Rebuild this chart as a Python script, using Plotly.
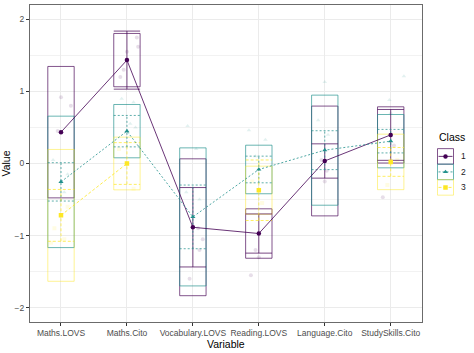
import plotly.graph_objects as go

variables = ["Maths.LOVS", "Maths.Cito", "Vocabulary.LOVS", "Reading.LOVS",
             "Language.Cito", "StudySkills.Cito"]
classes = ["1", "2", "3"]

# class means, SD (box half-height) and CI half-width (error bars)
mean_c1 = [0.435, 1.435, -0.885, -0.972, 0.035, 0.397]
mean_c2 = [-0.255, 0.449, -0.741, -0.083, 0.185, 0.310]
mean_c3 = [-0.720, 0.000, None, -0.371, None, 0.022]
sd_c1 = [0.912, 0.370, 0.950, 0.343, 0.762, 0.390]
sd_c2 = [0.912, 0.370, 0.958, 0.337, 0.764, 0.370]
sd_c3 = [0.915, 0.366, None, 0.334, None, 0.385]
ci_c1 = [None, 0.403, 0.551, 0.272, 0.238, 0.353]
ci_c2 = [0.266, 0.218, 0.442, 0.185, 0.270, 0.163]
ci_c3 = [0.360, 0.290, None, 0.420, None, 0.200]

# faint raw observations: (variable index, jitter, value)
raw_c1 = [(0, 0.00, 0.92), (0, 0.15, 0.80), (0, -0.05, 0.45),
          (1, 0.15, 1.75), (1, 0.17, 1.62), (1, -0.05, 1.30), (1, -0.10, 1.20), (1, 0.00, 1.55),
          (2, 0.08, -0.90), (2, 0.15, -1.05), (2, 0.10, -1.20), (2, -0.05, -1.60),
          (3, -0.05, -1.20), (3, 0.00, -1.30), (3, -0.12, -1.55),
          (4, -0.05, 0.05), (4, 0.03, -0.10), (4, 0.00, -0.25),
          (5, -0.12, -0.47), (5, 0.05, 0.25)]
raw_c2 = [(0, -0.12, 0.05), (0, 0.10, -0.15), (0, 0.05, -0.40),
          (1, 0.10, 0.85), (1, -0.08, 0.90), (1, 0.13, 0.50), (1, 0.05, 0.55),
          (2, -0.08, 0.52), (2, 0.05, 0.20), (2, 0.10, -0.50), (2, -0.10, -0.40),
          (3, -0.15, 0.46), (3, 0.10, 0.33), (3, -0.05, 0.10),
          (4, 0.00, 1.13), (4, -0.10, 0.60), (4, 0.05, 0.40),
          (5, 0.20, 1.21), (5, -0.02, 0.88), (5, 0.00, 0.70)]
raw_c3 = [(0, -0.10, -0.90), (0, 0.05, -1.05), (0, -0.15, -1.10), (0, 0.10, -0.60),
          (1, 0.10, -0.35), (1, -0.12, 0.20),
          (3, 0.05, -0.55), (3, -0.10, -0.25),
          (5, -0.05, -0.30), (5, 0.10, 0.05)]

means = [mean_c1, mean_c2, mean_c3]
sds = [sd_c1, sd_c2, sd_c3]
cis = [ci_c1, ci_c2, ci_c3]
raws = [raw_c1, raw_c2, raw_c3]

rgb = ["68,1,84", "33,144,140", "253,231,37"]
box_alpha = [0.75, 0.75, 0.55]
dashes = ["solid", "2px,2px", "3px,2px"]
symbols = ["circle", "triangle-up", "square"]
HW = 0.2  # half width of boxes / error-bar caps (category units)

fig = go.Figure()

# raw data
for k in range(3):
    fig.add_trace(go.Scatter(
        x=[r[0] + 1 + r[1] for r in raws[k]], y=[r[2] for r in raws[k]],
        mode="markers", showlegend=False, hoverinfo="skip",
        marker=dict(symbol=symbols[k], size=4, color=f"rgba({rgb[k]},0.13)")))

# SD boxes
for k in range(3):
    xs, ys = [], []
    for i in range(len(variables)):
        m, s = means[k][i], sds[k][i]
        if m is None or s is None:
            continue
        c = i + 1
        xs += [c - HW, c + HW, c + HW, c - HW, c - HW, None]
        ys += [m - s, m - s, m + s, m + s, m - s, None]
    fig.add_trace(go.Scatter(x=xs, y=ys, mode="lines", showlegend=False, hoverinfo="skip",
                             line=dict(color=f"rgba({rgb[k]},{box_alpha[k]})", width=0.9)))

# CI error bars
for k in range(3):
    xs, ys = [], []
    for i in range(len(variables)):
        m, e = means[k][i], cis[k][i]
        if m is None or e is None:
            continue
        c = i + 1
        xs += [c, c, None, c - HW, c + HW, None, c - HW, c + HW, None]
        ys += [m - e, m + e, None, m + e, m + e, None, m - e, m - e, None]
    fig.add_trace(go.Scatter(x=xs, y=ys, mode="lines", showlegend=False, hoverinfo="skip",
                             line=dict(color=f"rgba({rgb[k]},0.8)", width=0.9, dash=dashes[k])))

# mean profiles
for k in range(3):
    fig.add_trace(go.Scatter(
        x=list(range(1, len(variables) + 1)), y=means[k], mode="lines+markers",
        connectgaps=False, showlegend=False, name=classes[k],
        line=dict(color=f"rgb({rgb[k]})", width=0.8, dash=dashes[k]),
        marker=dict(symbol=symbols[k], size=4.5, color=f"rgb({rgb[k]})")))

# ---- manual legend (ggplot style keys) on a helper axis in pixel units ----
W, H = 474, 353
L, R, T, B = 30, 421.7, 5, 321.7
key_x0, key_x1 = 437.5, 453.5
key_tops = [148.5, 164.0, 179.5]
key_h = 15.5
for k in range(3):
    y0 = key_tops[k]
    fig.add_shape(type="rect", xref="x2", yref="y2", x0=key_x0, x1=key_x1, y0=y0, y1=y0 + key_h,
                  line=dict(color=f"rgba({rgb[k]},{box_alpha[k]})", width=0.9))
    fig.add_shape(type="line", xref="x2", yref="y2", x0=key_x0 + 1, x1=key_x1 - 1,
                  y0=y0 + key_h / 2, y1=y0 + key_h / 2,
                  line=dict(color=f"rgb({rgb[k]})", width=0.8, dash=dashes[k]))
    fig.add_trace(go.Scatter(x=[(key_x0 + key_x1) / 2], y=[y0 + key_h / 2], xaxis="x2", yaxis="y2",
                             mode="markers", showlegend=False, hoverinfo="skip",
                             marker=dict(symbol=symbols[k], size=4.5, color=f"rgb({rgb[k]})")))
    fig.add_annotation(xref="x2", yref="y2", x=459, y=y0 + key_h / 2, text=classes[k],
                       showarrow=False, xanchor="left", yanchor="middle",
                       font=dict(family="Liberation Sans", size=8.5, color="#1a1a1a"))
fig.add_annotation(xref="x2", yref="y2", x=436.5, y=137, text="Class", showarrow=False,
                   xanchor="left", yanchor="middle",
                   font=dict(family="Liberation Sans", size=10.5, color="#000000"))

dom_main = (R - L) / (W - L)
fig.update_layout(
    width=W, height=H,
    margin=dict(l=L, r=0, t=T, b=H - B, pad=0),
    paper_bgcolor="white", plot_bgcolor="white",
    showlegend=False,
    font=dict(family="Liberation Sans", size=8.5, color="#4D4D4D"),
    xaxis=dict(domain=[0, dom_main], range=[0.53, 6.47],
               tickmode="array", tickvals=list(range(1, len(variables) + 1)), ticktext=variables,
               showgrid=True, gridcolor="#EBEBEB", gridwidth=0.8, zeroline=False,
               showline=True, mirror=True, linecolor="#6b6b6b", linewidth=1,
               ticks="outside", ticklen=3, tickcolor="#333333", tickwidth=1,
               tickfont=dict(size=8.5, color="#4D4D4D"),
               title=dict(text="Variable", standoff=1,
                          font=dict(size=10.5, color="#000000"))),
    yaxis=dict(range=[-2.2, 2.2], tickvals=[-2, -1, 0, 1, 2],
               showgrid=True, gridcolor="#EBEBEB", gridwidth=0.8, zeroline=False,
               minor=dict(tickvals=[-1.5, -0.5, 0.5, 1.5], showgrid=True,
                          gridcolor="#F2F2F2", gridwidth=0.5, ticks=""),
               showline=True, mirror=True, linecolor="#6b6b6b", linewidth=1,
               ticks="outside", ticklen=3, tickcolor="#333333", tickwidth=1,
               tickfont=dict(size=8.5, color="#4D4D4D"),
               title=dict(text="Value", standoff=1,
                          font=dict(size=10.5, color="#000000"))),
    xaxis2=dict(domain=[dom_main, 1], range=[R, W], visible=False, fixedrange=True),
    yaxis2=dict(anchor="x2", range=[B, T], visible=False, fixedrange=True),
)

fig.write_html("out.html")
